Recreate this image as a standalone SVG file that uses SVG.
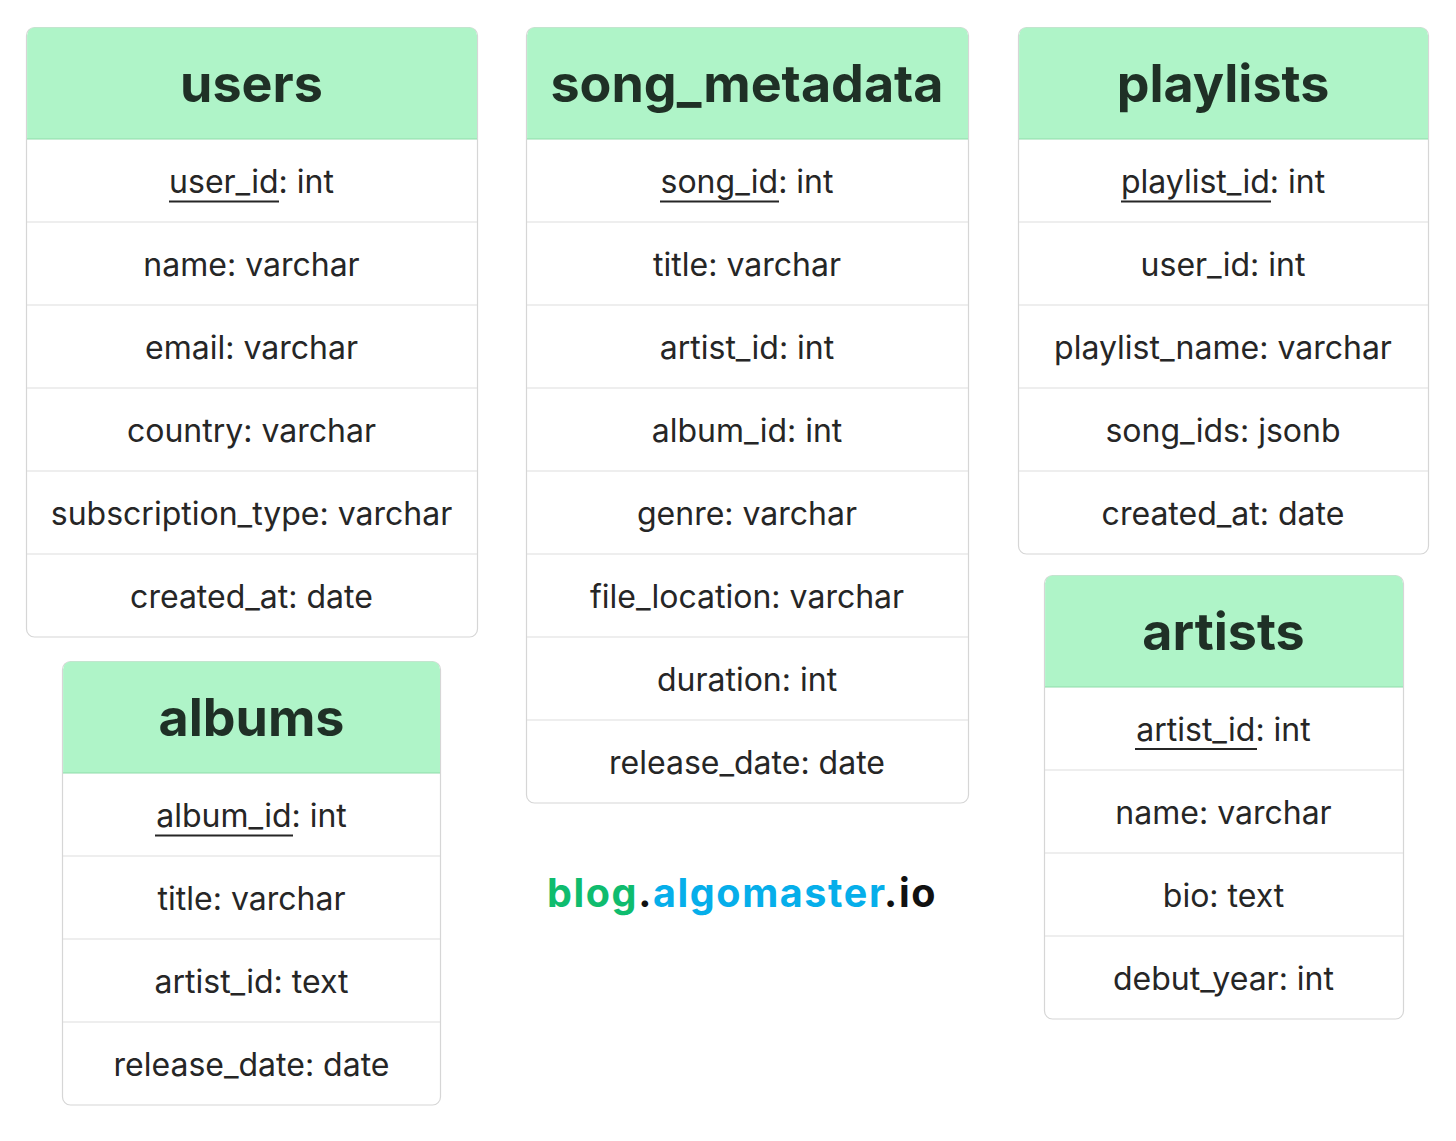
<svg xmlns="http://www.w3.org/2000/svg" width="1456" height="1141" viewBox="0 0 1456 1141">
<style>
.box{fill:#fff;stroke:#d6d6d6;stroke-width:1.2}
.hd{fill:#aff4c8}
.hl{stroke:#8fdbaa;stroke-width:1.2}
.sep{stroke:#dedede;stroke-width:1.2}
.ht{font-family:Inter,"Liberation Sans",sans-serif;font-weight:700;font-size:52px;fill:#1f3026;text-anchor:middle}
.rt{font-family:Inter,"Liberation Sans",sans-serif;font-size:32px;fill:#262626;text-anchor:middle}
.ul{stroke:#262626;stroke-width:2}
.logo{font-family:Inter,"Liberation Sans",sans-serif;font-weight:700;font-size:39.5px;letter-spacing:1.6px;text-anchor:middle}
</style>
<rect width="1456" height="1141" fill="#fff"/>
<g id="users">
<rect class="box" x="26.5" y="27.5" width="451" height="609.5" rx="8"/>
<path class="hd" d="M27.1,139 V35.5 a8,8 0 0 1 8,-8 H469 a8,8 0 0 1 8,8 V139 Z"/>
<line class="hl" x1="27" y1="139" x2="477" y2="139"/>
<line class="sep" x1="27" y1="222" x2="477" y2="222"/>
<line class="sep" x1="27" y1="305" x2="477" y2="305"/>
<line class="sep" x1="27" y1="388" x2="477" y2="388"/>
<line class="sep" x1="27" y1="471" x2="477" y2="471"/>
<line class="sep" x1="27" y1="554" x2="477" y2="554"/>
<text class="ht" x="251.5" y="102">users</text>
<text class="rt" x="251.5" y="193">user_id: int</text>
<line class="ul" x1="169" y1="201.5" x2="279" y2="201.5"/>
<text class="rt" x="251.5" y="276">name: varchar</text>
<text class="rt" x="251.5" y="359">email: varchar</text>
<text class="rt" x="251.5" y="442">country: varchar</text>
<text class="rt" x="251.5" y="525">subscription_type: varchar</text>
<text class="rt" x="251.5" y="608">created_at: date</text>
</g>
<g id="song_metadata">
<rect class="box" x="526.5" y="27.5" width="442" height="775.5" rx="8"/>
<path class="hd" d="M527.1,139 V35.5 a8,8 0 0 1 8,-8 H960 a8,8 0 0 1 8,8 V139 Z"/>
<line class="hl" x1="527" y1="139" x2="968" y2="139"/>
<line class="sep" x1="527" y1="222" x2="968" y2="222"/>
<line class="sep" x1="527" y1="305" x2="968" y2="305"/>
<line class="sep" x1="527" y1="388" x2="968" y2="388"/>
<line class="sep" x1="527" y1="471" x2="968" y2="471"/>
<line class="sep" x1="527" y1="554" x2="968" y2="554"/>
<line class="sep" x1="527" y1="637" x2="968" y2="637"/>
<line class="sep" x1="527" y1="720" x2="968" y2="720"/>
<text class="ht" x="747" y="102">song_metadata</text>
<text class="rt" x="747" y="193">song_id: int</text>
<line class="ul" x1="660" y1="201.5" x2="779" y2="201.5"/>
<text class="rt" x="747" y="276">title: varchar</text>
<text class="rt" x="747" y="359">artist_id: int</text>
<text class="rt" x="747" y="442">album_id: int</text>
<text class="rt" x="747" y="525">genre: varchar</text>
<text class="rt" x="747" y="608">file_location: varchar</text>
<text class="rt" x="747" y="691">duration: int</text>
<text class="rt" x="747" y="774">release_date: date</text>
</g>
<g id="playlists">
<rect class="box" x="1018.5" y="27.5" width="410" height="526.5" rx="8"/>
<path class="hd" d="M1019.1,139 V35.5 a8,8 0 0 1 8,-8 H1420 a8,8 0 0 1 8,8 V139 Z"/>
<line class="hl" x1="1019" y1="139" x2="1428" y2="139"/>
<line class="sep" x1="1019" y1="222" x2="1428" y2="222"/>
<line class="sep" x1="1019" y1="305" x2="1428" y2="305"/>
<line class="sep" x1="1019" y1="388" x2="1428" y2="388"/>
<line class="sep" x1="1019" y1="471" x2="1428" y2="471"/>
<text class="ht" x="1223" y="102">playlists</text>
<text class="rt" x="1223" y="193">playlist_id: int</text>
<line class="ul" x1="1121" y1="201.5" x2="1271" y2="201.5"/>
<text class="rt" x="1223" y="276">user_id: int</text>
<text class="rt" x="1223" y="359">playlist_name: varchar</text>
<text class="rt" x="1223" y="442">song_ids: jsonb</text>
<text class="rt" x="1223" y="525">created_at: date</text>
</g>
<g id="albums">
<rect class="box" x="62.5" y="661.5" width="378" height="443.5" rx="8"/>
<path class="hd" d="M63.1,773 V669.5 a8,8 0 0 1 8,-8 H432 a8,8 0 0 1 8,8 V773 Z"/>
<line class="hl" x1="63" y1="773" x2="440" y2="773"/>
<line class="sep" x1="63" y1="856" x2="440" y2="856"/>
<line class="sep" x1="63" y1="939" x2="440" y2="939"/>
<line class="sep" x1="63" y1="1022" x2="440" y2="1022"/>
<text class="ht" x="251.5" y="736">albums</text>
<text class="rt" x="251.5" y="827">album_id: int</text>
<line class="ul" x1="155" y1="835.5" x2="293" y2="835.5"/>
<text class="rt" x="251.5" y="910">title: varchar</text>
<text class="rt" x="251.5" y="993">artist_id: text</text>
<text class="rt" x="251.5" y="1076">release_date: date</text>
</g>
<g id="artists">
<rect class="box" x="1044.5" y="575.5" width="359" height="443.5" rx="8"/>
<path class="hd" d="M1045.1,687 V583.5 a8,8 0 0 1 8,-8 H1395 a8,8 0 0 1 8,8 V687 Z"/>
<line class="hl" x1="1045" y1="687" x2="1403" y2="687"/>
<line class="sep" x1="1045" y1="770" x2="1403" y2="770"/>
<line class="sep" x1="1045" y1="853" x2="1403" y2="853"/>
<line class="sep" x1="1045" y1="936" x2="1403" y2="936"/>
<text class="ht" x="1223.5" y="650">artists</text>
<text class="rt" x="1223.5" y="741">artist_id: int</text>
<line class="ul" x1="1135" y1="749" x2="1257" y2="749"/>
<text class="rt" x="1223.5" y="824">name: varchar</text>
<text class="rt" x="1223.5" y="907">bio: text</text>
<text class="rt" x="1223.5" y="990">debut_year: int</text>
</g>
<g id="connectors"></g>
<g id="logo">
<text class="logo" x="742" y="907"><tspan fill="#0fbc6e">blog</tspan><tspan fill="#111">.</tspan><tspan fill="#06aeea">algomaster</tspan><tspan fill="#111">.io</tspan></text>
</g>
</svg>
